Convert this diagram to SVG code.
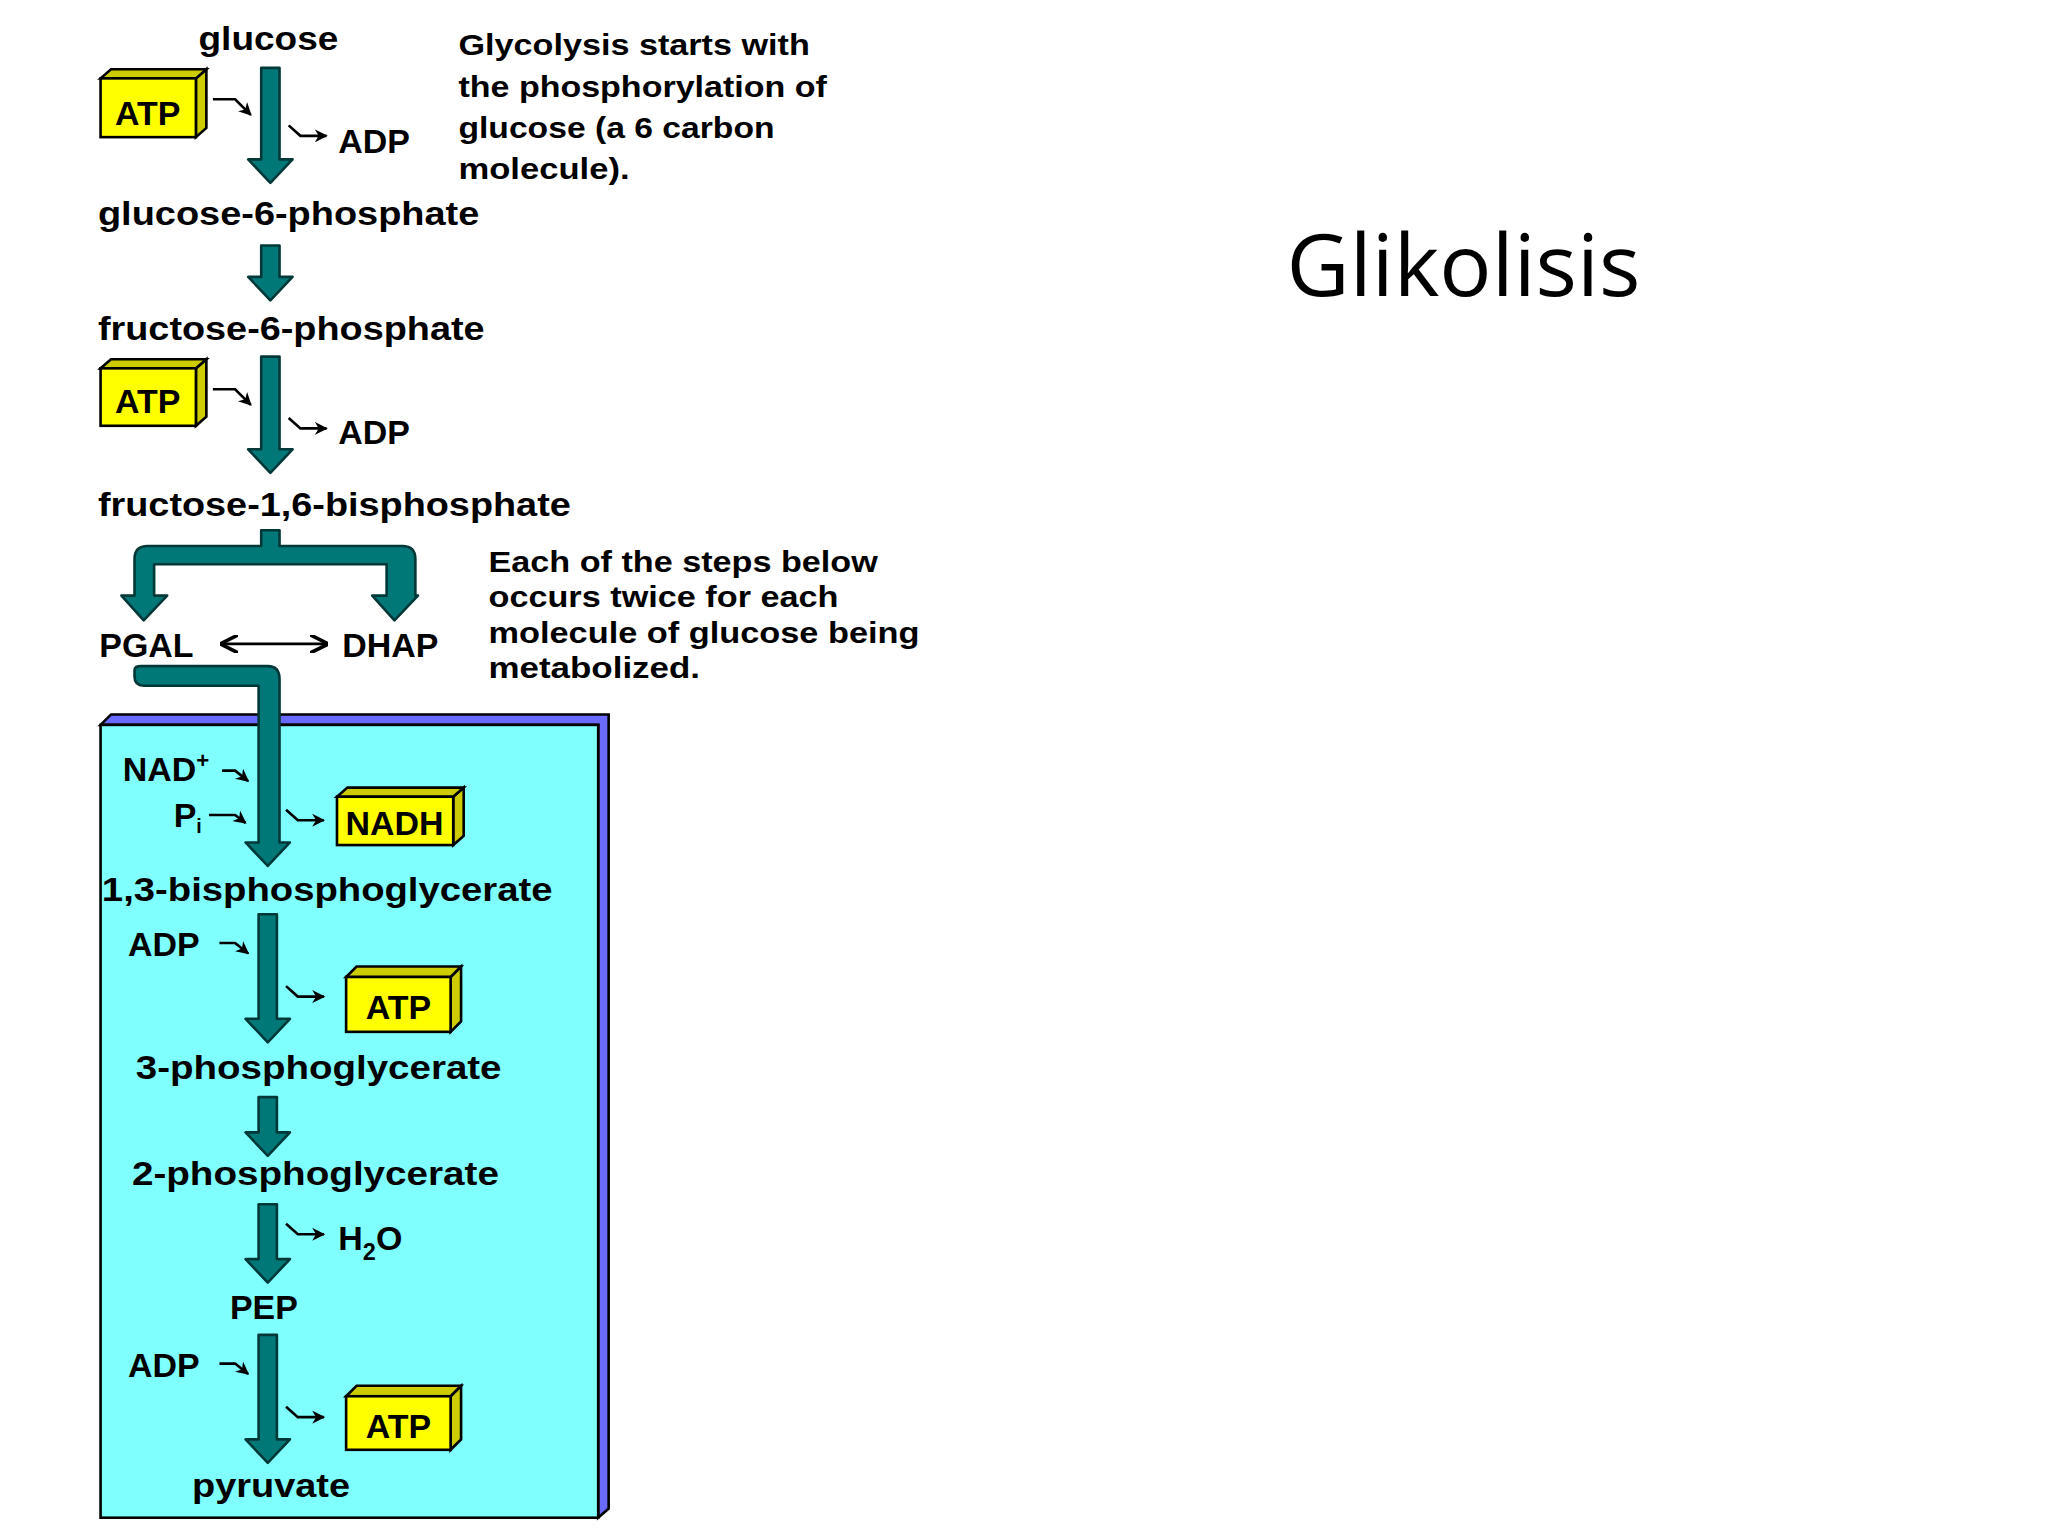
<svg xmlns="http://www.w3.org/2000/svg" width="2048" height="1536" viewBox="0 0 2048 1536">
<defs>
<style>
.t{font-family:"Liberation Sans",Arial,sans-serif;font-weight:bold;font-size:26px;fill:#000}
.n{font-family:"Liberation Sans",Arial,sans-serif;font-weight:bold;font-size:22px;fill:#000}
.ar{fill:#007878;stroke:#003838;stroke-width:2;stroke-linejoin:round}
.hk{fill:none;stroke:#000;stroke-width:2;marker-end:url(#m)}
.yb{fill:#ffff00;stroke:#000;stroke-width:2}
.ys{fill:#cccc00;stroke:#000;stroke-width:2}
</style>
<marker id="m" viewBox="0 0 10 10" refX="9" refY="5" markerWidth="5" markerHeight="5" orient="auto"><path d="M0,0 L10,5 L0,10 L3,5 Z" fill="#000"/></marker>
<marker id="m2" viewBox="0 0 10 10" refX="9" refY="5" markerWidth="7" markerHeight="7" orient="auto-start-reverse"><path d="M0,0 L10,5 L0,10" fill="none" stroke="#000" stroke-width="2"/></marker>
</defs>
<rect width="2048" height="1536" fill="#fff"/>
<g transform="scale(1.30612)">
<g id="box">
<polygon points="77,555 85,547 466,547 466,1155 458,1162 458,555" fill="#6a6aff" stroke="#000" stroke-width="2"/>
<rect x="77" y="555" width="381" height="607" fill="#80ffff" stroke="#000" stroke-width="2"/>
</g>
<g id="connectors">
<path class="ar" d="M200,52 H214 V122 H224 L207,140 L190,122 H200 Z"/>
<path class="ar" d="M200,188 H214 V212 H224 L207,230 L190,212 H200 Z"/>
<path class="ar" d="M200,273 H214 V344 H224 L207,362 L190,344 H200 Z"/>
<path class="ar" d="M200,406 H214 V418 H308 Q318,418 318,428 V456 H320 L302,475 L285,456 H296 V432 H118 V456 H128 L110,475 L93,456 H103 V428 Q103,418 113,418 H200 Z"/>
<path class="ar" d="M103,513 Q103,510 108,510 H205 Q214,510 214,520 V645 H222 L205,663 L188,645 H198 V525 H110 Q103,525 103,518 Z"/>
<path class="ar" d="M198,700 H212 V780 H222 L205,798 L188,780 H198 Z"/>
<path class="ar" d="M198,840 H212 V867 H222 L205,885 L188,867 H198 Z"/>
<path class="ar" d="M198,922 H212 V964 H222 L205,982 L188,964 H198 Z"/>
<path class="ar" d="M198,1022 H212 V1102 H222 L205,1120 L188,1102 H198 Z"/>
<path class="hk" d="M163,76 H180 L192,88"/>
<path class="hk" d="M221,96 L230,104 H250"/>
<path class="hk" d="M163,298 H180 L192,310"/>
<path class="hk" d="M221,320 L230,328 H250"/>
<path class="hk" d="M170,590 H180 L190,598"/>
<path class="hk" d="M160,624 H180 L188,630"/>
<path class="hk" d="M219,620 L228,628 H248"/>
<path class="hk" d="M168,722 H180 L190,730"/>
<path class="hk" d="M219,755 L228,763 H248"/>
<path class="hk" d="M219,937 L228,945 H248"/>
<path class="hk" d="M168,1044 H180 L190,1052"/>
<path class="hk" d="M219,1077 L228,1085 H248"/>
<line x1="170" y1="493" x2="250" y2="493" stroke="#000" stroke-width="2" marker-start="url(#m2)" marker-end="url(#m2)"/>
</g>
<g id="atp1"><polygon class="ys" points="150,60 158,53 158,98 150,105"/><polygon class="ys" points="77,60 85,53 158,53 150,60"/><rect class="yb" x="77" y="60" width="73" height="45"/><text class="t" x="113" y="96" text-anchor="middle">ATP</text></g>
<g id="atp2"><polygon class="ys" points="150,282 158,275 158,319 150,326"/><polygon class="ys" points="77,282 85,275 158,275 150,282"/><rect class="yb" x="77" y="282" width="73" height="44"/><text class="t" x="113" y="316" text-anchor="middle">ATP</text></g>
<g id="nadh"><polygon class="ys" points="347,610 355,603 355,640 347,647"/><polygon class="ys" points="258,610 266,603 355,603 347,610"/><rect class="yb" x="258" y="610" width="89" height="37"/><text class="t" x="302" y="639" text-anchor="middle">NADH</text></g>
<g id="atp3"><polygon class="ys" points="345,748 353,740 353,782 345,790"/><polygon class="ys" points="265,748 273,740 353,740 345,748"/><rect class="yb" x="265" y="748" width="80" height="42"/><text class="t" x="305" y="780" text-anchor="middle">ATP</text></g>
<g id="atp4"><polygon class="ys" points="345,1069 353,1061 353,1102 345,1110"/><polygon class="ys" points="265,1069 273,1061 353,1061 345,1069"/><rect class="yb" x="265" y="1069" width="80" height="41"/><text class="t" x="305" y="1101" text-anchor="middle">ATP</text></g>
<g id="labels">
<text class="t" x="152" y="38" textLength="107" lengthAdjust="spacingAndGlyphs">glucose</text>
<text class="t" x="259" y="117">ADP</text>
<text class="t" x="75" y="172" textLength="292" lengthAdjust="spacingAndGlyphs">glucose-6-phosphate</text>
<text class="t" x="75" y="260" textLength="296" lengthAdjust="spacingAndGlyphs">fructose-6-phosphate</text>
<text class="t" x="259" y="340">ADP</text>
<text class="t" x="75" y="395" textLength="362" lengthAdjust="spacingAndGlyphs">fructose-1,6-bisphosphate</text>
<text class="t" x="76" y="503">PGAL</text>
<text class="t" x="262" y="503">DHAP</text>
<text class="t" x="94" y="598">NAD<tspan font-size="17" dy="-10">+</tspan></text>
<text class="t" x="133" y="633">P<tspan font-size="15" dy="5">i</tspan></text>
<text class="t" x="78" y="690" textLength="345" lengthAdjust="spacingAndGlyphs">1,3-bisphosphoglycerate</text>
<text class="t" x="98" y="732">ADP</text>
<text class="t" x="104" y="826" textLength="280" lengthAdjust="spacingAndGlyphs">3-phosphoglycerate</text>
<text class="t" x="101" y="907" textLength="281" lengthAdjust="spacingAndGlyphs">2-phosphoglycerate</text>
<text class="t" x="259" y="957">H<tspan font-size="18" dy="8">2</tspan><tspan dy="-8">O</tspan></text>
<text class="t" x="176" y="1010">PEP</text>
<text class="t" x="98" y="1054">ADP</text>
<text class="t" x="147" y="1146" textLength="121" lengthAdjust="spacingAndGlyphs">pyruvate</text>
</g>
<g id="notes">
<text class="n" x="351" y="42" textLength="269" lengthAdjust="spacingAndGlyphs">Glycolysis starts with</text>
<text class="n" x="351" y="74" textLength="282" lengthAdjust="spacingAndGlyphs">the phosphorylation of</text>
<text class="n" x="351" y="106" textLength="242" lengthAdjust="spacingAndGlyphs">glucose (a 6 carbon</text>
<text class="n" x="351" y="137" textLength="131" lengthAdjust="spacingAndGlyphs">molecule).</text>
<text class="n" x="374" y="438" textLength="298" lengthAdjust="spacingAndGlyphs">Each of the steps below</text>
<text class="n" x="374" y="465" textLength="268" lengthAdjust="spacingAndGlyphs">occurs twice for each</text>
<text class="n" x="374" y="492" textLength="330" lengthAdjust="spacingAndGlyphs">molecule of glucose being</text>
<text class="n" x="374" y="519" textLength="162" lengthAdjust="spacingAndGlyphs">metabolized.</text>
</g>
<text id="title" x="985" y="227" font-family="'Open Sans',sans-serif" font-size="66" textLength="271" lengthAdjust="spacingAndGlyphs">Glikolisis</text>
</g>
</svg>
